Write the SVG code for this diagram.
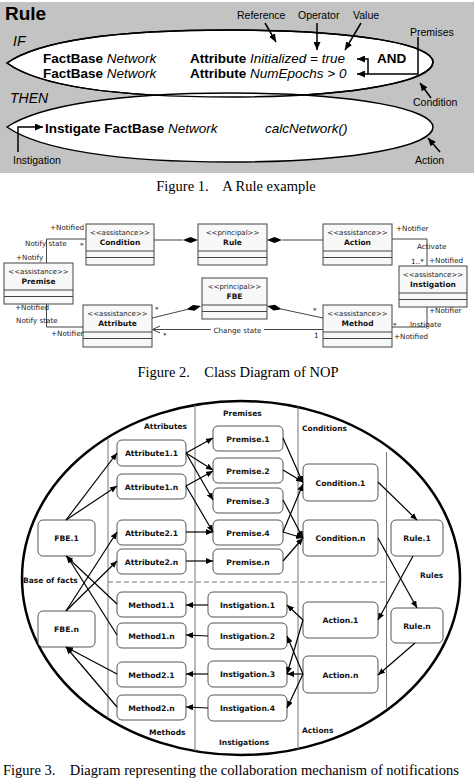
<svg xmlns="http://www.w3.org/2000/svg" width="474" height="780" viewBox="0 0 474 780">
<style>
.f1{font-family:"Liberation Sans",Arial,sans-serif;fill:#000}
.lab{font-size:10.5px}
.big{font-size:13.5px}
.cap{font-family:"Liberation Serif","Times New Roman",serif;font-size:14.5px;fill:#000}
.cls{fill:#f8f8f8;stroke:#444;stroke-width:1}
.st{font-family:"DejaVu Sans",Verdana,sans-serif;font-size:7px;fill:#222;text-anchor:middle}
.nm{font-family:"DejaVu Sans",Verdana,sans-serif;font-size:7.5px;font-weight:bold;fill:#111;text-anchor:middle}
.sm{font-family:"DejaVu Sans",Verdana,sans-serif;font-size:7.2px;fill:#222}
.cl{stroke:#444;stroke-width:1;fill:none}
.nd{fill:#fff;stroke:#555;stroke-width:1}
.nt{font-family:"DejaVu Sans",Verdana,sans-serif;font-size:7.7px;font-weight:bold;fill:#111;text-anchor:middle}
.col{font-family:"DejaVu Sans",Verdana,sans-serif;font-size:7.5px;font-weight:bold;fill:#111}
.ar{stroke:#000;stroke-width:1.2;fill:none;marker-end:url(#ah)}
.ar1{stroke:#000;stroke-width:1.5;fill:none;marker-end:url(#ah1)}
.div{stroke:#777;stroke-width:1;fill:none}
</style>
<defs>
<marker id="ah" markerUnits="userSpaceOnUse" markerWidth="8" markerHeight="6" refX="7" refY="3" orient="auto"><path d="M0,0 L7,3 L0,6 z" fill="#000"/></marker>
<marker id="ah1" markerUnits="userSpaceOnUse" markerWidth="9" markerHeight="7" refX="8" refY="3.5" orient="auto"><path d="M0,0 L8,3.5 L0,7 z" fill="#000"/></marker>
</defs>
<rect x="0" y="0" width="474" height="780" fill="#fff"/>

<!-- Figure 1 -->
<g id="fig1">
<rect x="0" y="2" width="474" height="171" fill="#c3c3c3"/>
<text class="f1" x="5" y="20" font-size="19" font-weight="bold">Rule</text>
<text class="f1" x="13" y="46" font-size="14" font-style="italic" fill="#222">IF</text>
<g id="condition-ellipse">
<path d="M7,63 C40,40 120,30 230,30 C360,30 433,45 433,62 C433,80 360,97 230,97 C120,97 40,87 7,63 Z" fill="#fff" stroke="#000" stroke-width="1.5"/>
</g>
<g id="action-ellipse">
<path d="M7,127 C40,105 120,93 230,93 C360,93 433,110 433,127 C433,145 360,162 230,162 C120,162 40,150 7,127 Z" fill="#fff" stroke="#000" stroke-width="1.5"/>
<path d="M7,63 C40,40 120,30 230,30 C360,30 433,45 433,62 C433,80 360,97 230,97 C120,97 40,87 7,63 Z" fill="none" stroke="#000" stroke-width="1.5"/>
</g>
<text class="f1" x="10" y="103" font-size="14" font-style="italic" fill="#222">THEN</text>
<text class="f1 big" x="43" y="63"><tspan font-weight="bold">FactBase</tspan> <tspan font-style="italic">Network</tspan></text>
<text class="f1 big" x="43" y="78"><tspan font-weight="bold">FactBase</tspan> <tspan font-style="italic">Network</tspan></text>
<text class="f1 big" x="190" y="63"><tspan font-weight="bold">Attribute</tspan> <tspan font-style="italic">Initialized = true</tspan></text>
<text class="f1 big" x="190" y="78"><tspan font-weight="bold">Attribute</tspan> <tspan font-style="italic">NumEpochs &gt; 0</tspan></text>
<text class="f1 big" x="377" y="63" font-weight="bold">AND</text>
<text class="f1 big" x="45" y="133"><tspan font-weight="bold">Instigate FactBase</tspan> <tspan font-style="italic">Network</tspan></text>
<text class="f1 big" x="265" y="133" font-style="italic">calcNetwork()</text>
<text class="f1 lab" x="237" y="19">Reference</text>
<text class="f1 lab" x="298" y="19">Operator</text>
<text class="f1 lab" x="353" y="19">Value</text>
<text class="f1 lab" x="410" y="36">Premises</text>
<text class="f1 lab" x="413" y="106">Condition</text>
<text class="f1 lab" x="13" y="164">Instigation</text>
<text class="f1 lab" x="415" y="164">Action</text>
<g id="fig1-arrows">
<line class="ar1" x1="265" y1="23" x2="276" y2="42"/>
<line class="ar1" x1="317" y1="23" x2="317" y2="50"/>
<line class="ar1" x1="361" y1="23" x2="345" y2="50"/>
<polyline class="ar1" points="368,74 368,59 357,59"/>
<polyline class="ar1" points="418,37 418,74 357,74"/>
<line class="ar1" x1="431" y1="98" x2="420" y2="83"/>
<line class="ar1" x1="440" y1="152" x2="428" y2="138"/>
<polyline class="ar1" points="18,152 18,127 43,127"/>
</g>
</g>
<text class="cap" x="236" y="191" text-anchor="middle" xml:space="preserve">Figure 1.    A Rule example</text>

<!-- Figure 2 -->
<g id="c-condition"><rect class="cls" x="86" y="224" width="68" height="41"/><line class="cl" x1="86" y1="251" x2="154" y2="251"/><line class="cl" x1="86" y1="257.5" x2="154" y2="257.5"/><text class="st" x="120" y="235">&lt;&lt;assistance&gt;&gt;</text><text class="nm" x="120" y="245">Condition</text></g>
<g id="c-rule"><rect class="cls" x="198" y="224" width="69" height="41"/><line class="cl" x1="198" y1="251" x2="267" y2="251"/><line class="cl" x1="198" y1="257.5" x2="267" y2="257.5"/><text class="st" x="232.5" y="235">&lt;&lt;principal&gt;&gt;</text><text class="nm" x="232.5" y="245">Rule</text></g>
<g id="c-action"><rect class="cls" x="323" y="224" width="69" height="41"/><line class="cl" x1="323" y1="251" x2="392" y2="251"/><line class="cl" x1="323" y1="257.5" x2="392" y2="257.5"/><text class="st" x="357.5" y="235">&lt;&lt;assistance&gt;&gt;</text><text class="nm" x="357.5" y="245">Action</text></g>
<g id="c-premise"><rect class="cls" x="4" y="263" width="69" height="41"/><line class="cl" x1="4" y1="290" x2="73" y2="290"/><line class="cl" x1="4" y1="296.5" x2="73" y2="296.5"/><text class="st" x="38.5" y="274">&lt;&lt;assistance&gt;&gt;</text><text class="nm" x="38.5" y="284">Premise</text></g>
<g id="c-instigation"><rect class="cls" x="399" y="266" width="68" height="41"/><line class="cl" x1="399" y1="293" x2="467" y2="293"/><line class="cl" x1="399" y1="299.5" x2="467" y2="299.5"/><text class="st" x="433" y="277">&lt;&lt;assistance&gt;&gt;</text><text class="nm" x="433" y="287">Instigation</text></g>
<g id="c-fbe"><rect class="cls" x="202" y="278" width="65" height="41"/><line class="cl" x1="202" y1="305" x2="267" y2="305"/><line class="cl" x1="202" y1="311.5" x2="267" y2="311.5"/><text class="st" x="234.5" y="289">&lt;&lt;principal&gt;&gt;</text><text class="nm" x="234.5" y="299">FBE</text></g>
<g id="c-attribute"><rect class="cls" x="83" y="305" width="69" height="42"/><line class="cl" x1="83" y1="332" x2="152" y2="332"/><line class="cl" x1="83" y1="338.5" x2="152" y2="338.5"/><text class="st" x="117.5" y="316">&lt;&lt;assistance&gt;&gt;</text><text class="nm" x="117.5" y="326">Attribute</text></g>
<g id="c-method"><rect class="cls" x="323" y="305" width="69" height="42"/><line class="cl" x1="323" y1="332" x2="392" y2="332"/><line class="cl" x1="323" y1="338.5" x2="392" y2="338.5"/><text class="st" x="357.5" y="316">&lt;&lt;assistance&gt;&gt;</text><text class="nm" x="357.5" y="326">Method</text></g>
<g id="fig2-connectors">
<line class="cl" x1="154" y1="240" x2="183" y2="240"/>
<polygon points="183,240 190.5,237 198,240 190.5,243" fill="#000"/>
<polygon points="267,240 274.5,237 282,240 274.5,243" fill="#000"/>
<line class="cl" x1="282" y1="240" x2="323" y2="240"/>
<line class="cl" x1="152" y1="318" x2="187" y2="309.5"/>
<polygon points="0,0 -7.5,-3 -15,0 -7.5,3" fill="#000" transform="translate(201,306) rotate(-13.8)"/>
<line class="cl" x1="323" y1="318" x2="281" y2="309"/>
<polygon points="0,0 -7.5,-3 -15,0 -7.5,3" fill="#000" transform="translate(267,306) rotate(192.1)"/>
<line class="cl" x1="152" y1="329.5" x2="211" y2="329.5"/>
<line class="cl" x1="264" y1="329.5" x2="323" y2="329.5"/>
<polyline class="cl" points="160,326 152.5,329.5 160,333"/>
<polyline class="cl" points="86,239 46.5,239 46.5,263"/>
<polyline class="cl" points="46.5,304 46.5,327 83,327"/>
<polyline class="cl" points="392,239 427,239 427,266"/>
<polyline class="cl" points="427,307 427,327 392,327"/>
</g>
<text class="sm" x="50" y="230">+Notified</text>
<text class="sm" x="80" y="248">*</text>
<text class="sm" x="25" y="246">Notify state</text>
<text class="sm" x="16" y="260">+Notify</text>
<text class="sm" x="15" y="310">+Notified</text>
<text class="sm" x="16" y="323">Notify state</text>
<text class="sm" x="51" y="336">+Notifier</text>
<text class="sm" x="155" y="312">*</text>
<text class="sm" x="163" y="338">*</text>
<text class="sm" x="237.5" y="333" text-anchor="middle">Change state</text>
<text class="sm" x="313" y="313">*</text>
<text class="sm" x="314" y="338">1</text>
<text class="sm" x="396" y="231">+Notifier</text>
<text class="sm" x="417" y="249">Activate</text>
<text class="sm" x="411" y="264">1..*</text>
<text class="sm" x="429" y="263">+Notified</text>
<text class="sm" x="429" y="313">+Notifier</text>
<text class="sm" x="393" y="328">*</text>
<text class="sm" x="410" y="327">Instigate</text>
<text class="sm" x="394" y="339">+Notified</text>
<text class="cap" x="238" y="377" text-anchor="middle" xml:space="preserve">Figure 2.    Class Diagram of NOP</text>

<!-- Figure 3 -->
<g id="fig3-frame">
<ellipse cx="241" cy="578" rx="219" ry="177" fill="none" stroke="#000" stroke-width="2.5"/>
<line class="div" x1="108" y1="438" x2="108" y2="718"/>
<line class="div" x1="195" y1="405" x2="195" y2="751"/>
<line class="div" x1="298" y1="407" x2="298" y2="749"/>
<line class="div" x1="386.5" y1="452" x2="386.5" y2="708"/>
<line x1="108" y1="582" x2="387" y2="582" stroke="#777" stroke-width="1" stroke-dasharray="5,3"/>
<text class="col" x="144" y="429">Attributes</text>
<text class="col" x="223" y="416">Premises</text>
<text class="col" x="302" y="431">Conditions</text>
<text class="col" x="420" y="578">Rules</text>
<text class="col" x="23" y="583">Base of facts</text>
<text class="col" x="149" y="735">Methods</text>
<text class="col" x="219" y="745">Instigations</text>
<text class="col" x="302" y="733">Actions</text>
</g>
<g id="n-fbe1"><rect class="nd" x="38" y="520" width="57" height="36" rx="5"/><text class="nt" x="66.5" y="541">FBE.1</text></g>
<g id="n-fben"><rect class="nd" x="38" y="611" width="57" height="36" rx="5"/><text class="nt" x="66.5" y="632">FBE.n</text></g>
<g id="n-a11"><rect class="nd" x="117" y="440" width="69" height="26" rx="5"/><text class="nt" x="151.5" y="456">Attribute1.1</text></g>
<g id="n-a1n"><rect class="nd" x="117" y="474" width="69" height="25" rx="5"/><text class="nt" x="151.5" y="489.5">Attribute1.n</text></g>
<g id="n-a21"><rect class="nd" x="117" y="520" width="69" height="25" rx="5"/><text class="nt" x="151.5" y="535.5">Attribute2.1</text></g>
<g id="n-a2n"><rect class="nd" x="117" y="549" width="69" height="25" rx="5"/><text class="nt" x="151.5" y="564.5">Attribute2.n</text></g>
<g id="n-m11"><rect class="nd" x="117" y="592" width="69" height="25" rx="5"/><text class="nt" x="151.5" y="607.5">Method1.1</text></g>
<g id="n-m1n"><rect class="nd" x="117" y="623" width="69" height="25" rx="5"/><text class="nt" x="151.5" y="638.5">Method1.n</text></g>
<g id="n-m21"><rect class="nd" x="117" y="662" width="69" height="25" rx="5"/><text class="nt" x="151.5" y="677.5">Method2.1</text></g>
<g id="n-m2n"><rect class="nd" x="117" y="695" width="69" height="25" rx="5"/><text class="nt" x="151.5" y="710.5">Method2.n</text></g>
<g id="n-p1"><rect class="nd" x="213" y="426" width="70" height="25" rx="5"/><text class="nt" x="248" y="441.5">Premise.1</text></g>
<g id="n-p2"><rect class="nd" x="213" y="458" width="70" height="25" rx="5"/><text class="nt" x="248" y="473.5">Premise.2</text></g>
<g id="n-p3"><rect class="nd" x="213" y="488" width="70" height="25" rx="5"/><text class="nt" x="248" y="503.5">Premise.3</text></g>
<g id="n-p4"><rect class="nd" x="213" y="520" width="70" height="25" rx="5"/><text class="nt" x="248" y="535.5">Premise.4</text></g>
<g id="n-pn"><rect class="nd" x="213" y="549" width="70" height="25" rx="5"/><text class="nt" x="248" y="564.5">Premise.n</text></g>
<g id="n-i1"><rect class="nd" x="208" y="592" width="79" height="25" rx="5"/><text class="nt" x="247.5" y="607.5">Instigation.1</text></g>
<g id="n-i2"><rect class="nd" x="208" y="623" width="79" height="26" rx="5"/><text class="nt" x="247.5" y="639">Instigation.2</text></g>
<g id="n-i3"><rect class="nd" x="208" y="661" width="79" height="26" rx="5"/><text class="nt" x="247.5" y="677">Instigation.3</text></g>
<g id="n-i4"><rect class="nd" x="208" y="695" width="79" height="26" rx="5"/><text class="nt" x="247.5" y="711">Instigation.4</text></g>
<g id="n-c1"><rect class="nd" x="303" y="464" width="75" height="37" rx="5"/><text class="nt" x="340.5" y="485.5">Condition.1</text></g>
<g id="n-cn"><rect class="nd" x="303" y="520" width="75" height="36" rx="5"/><text class="nt" x="340.5" y="541">Condition.n</text></g>
<g id="n-r1"><rect class="nd" x="391" y="520" width="52" height="36" rx="5"/><text class="nt" x="417" y="541">Rule.1</text></g>
<g id="n-rn"><rect class="nd" x="391" y="608" width="52" height="35" rx="5"/><text class="nt" x="417" y="628.5">Rule.n</text></g>
<g id="n-act1"><rect class="nd" x="303" y="602" width="75" height="36" rx="5"/><text class="nt" x="340.5" y="623">Action.1</text></g>
<g id="n-actn"><rect class="nd" x="303" y="656" width="75" height="37" rx="5"/><text class="nt" x="340.5" y="677.5">Action.n</text></g>
<g id="fig3-connectors">
<line class="ar" x1="66" y1="520" x2="117" y2="453"/>
<line class="ar" x1="66" y1="520" x2="117" y2="486"/>
<line class="ar" x1="66" y1="611" x2="117" y2="532"/>
<line class="ar" x1="66" y1="611" x2="117" y2="561"/>
<line class="ar" x1="117" y1="604" x2="66" y2="556"/>
<line class="ar" x1="117" y1="635" x2="67" y2="556"/>
<line class="ar" x1="117" y1="674" x2="66" y2="647"/>
<line class="ar" x1="117" y1="707" x2="66" y2="647"/>
<line class="ar" x1="186" y1="453" x2="213" y2="438"/>
<line class="ar" x1="186" y1="453" x2="213" y2="470"/>
<line class="ar" x1="186" y1="453" x2="213" y2="500"/>
<line class="ar" x1="186" y1="486" x2="213" y2="471"/>
<line class="ar" x1="186" y1="486" x2="213" y2="532"/>
<line class="ar" x1="186" y1="532" x2="213" y2="532"/>
<line class="ar" x1="186" y1="561" x2="213" y2="561"/>
<line class="ar" x1="283" y1="438" x2="303" y2="483"/>
<line class="ar" x1="283" y1="470" x2="303" y2="482"/>
<line class="ar" x1="283" y1="532" x2="303" y2="484"/>
<line class="ar" x1="283" y1="500" x2="303" y2="538"/>
<line class="ar" x1="283" y1="532" x2="303" y2="538"/>
<line class="ar" x1="283" y1="561" x2="303" y2="538"/>
<line class="ar" x1="378" y1="482" x2="417" y2="520"/>
<line class="ar" x1="378" y1="538" x2="417" y2="608"/>
<line class="ar" x1="413" y1="556" x2="378" y2="620"/>
<line class="ar" x1="415" y1="643" x2="378" y2="675"/>
<line class="ar" x1="303" y1="620" x2="287" y2="605"/>
<line class="ar" x1="303" y1="620" x2="287" y2="674"/>
<line class="ar" x1="303" y1="674" x2="287" y2="636"/>
<line class="ar" x1="303" y1="674" x2="287" y2="674"/>
<line class="ar" x1="303" y1="674" x2="287" y2="708"/>
<line class="ar" x1="208" y1="605" x2="186" y2="605"/>
<line class="ar" x1="208" y1="636" x2="186" y2="635"/>
<line class="ar" x1="208" y1="674" x2="186" y2="674"/>
<line class="ar" x1="208" y1="708" x2="186" y2="707"/>
</g>
<text class="cap" x="3" y="775" font-size="14.8" xml:space="preserve">Figure 3.    Diagram representing the collaboration mechanism of notifications</text>
</svg>
